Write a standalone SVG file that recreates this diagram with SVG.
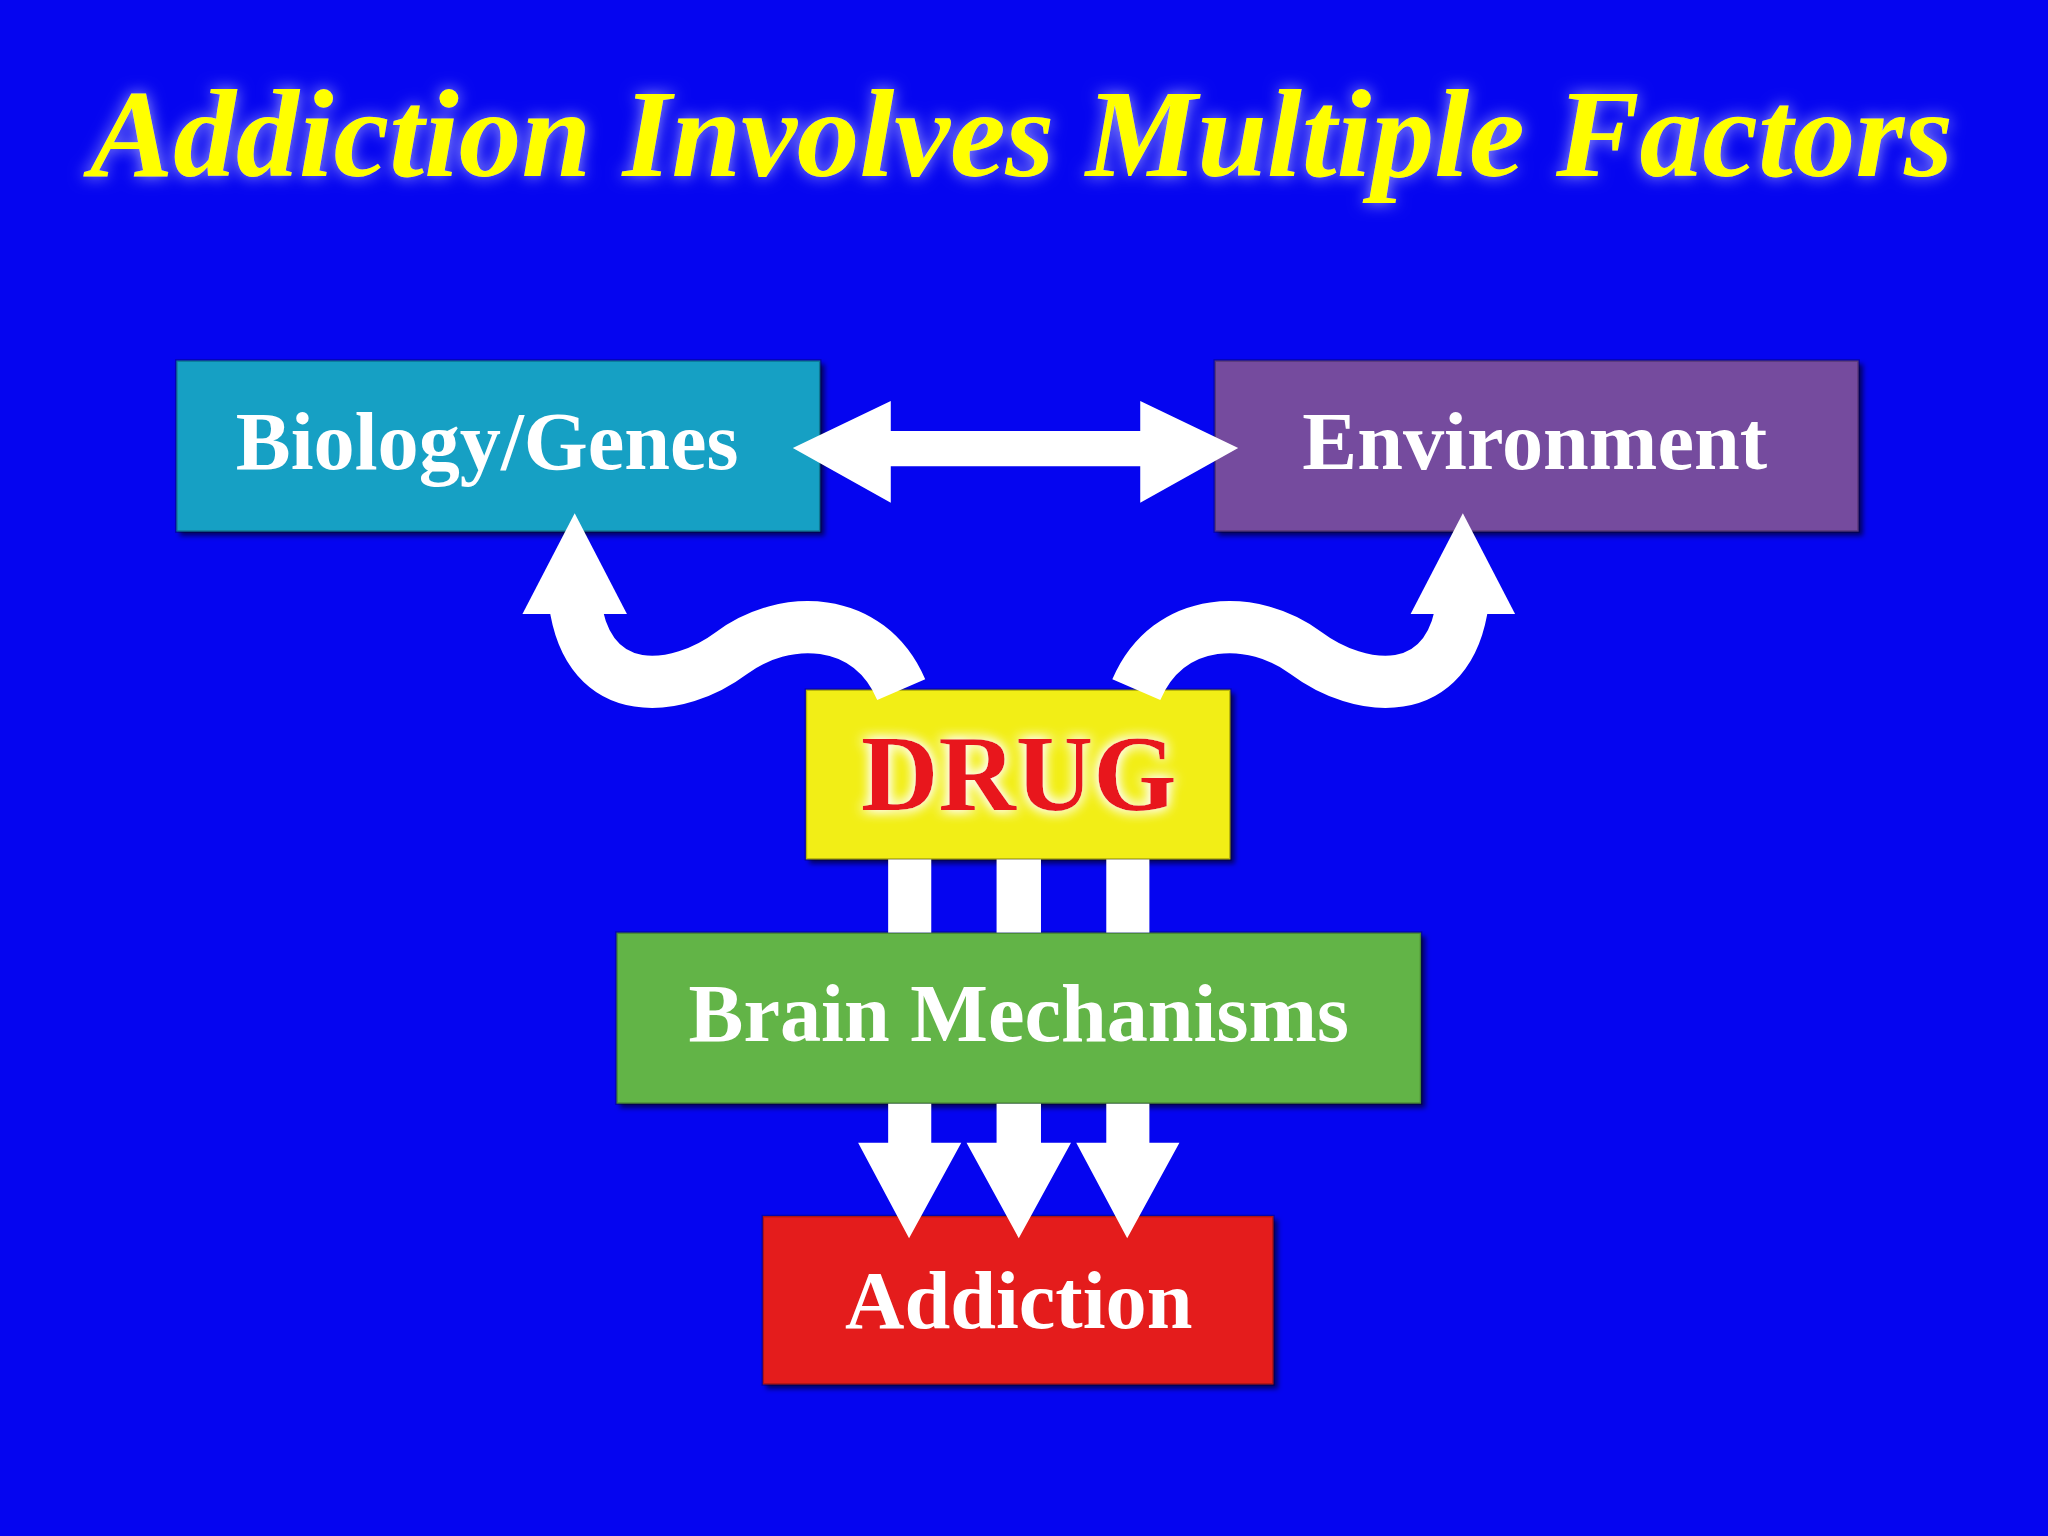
<svg xmlns="http://www.w3.org/2000/svg" width="2048" height="1536" viewBox="0 0 2048 1536">
<defs>
<style>
.lbl{font-family:"Liberation Serif",serif;font-weight:bold;fill:#fff;text-anchor:middle}
.box{stroke:rgba(0,0,0,0.25);stroke-width:2}
.wh{fill:#fff}
.ws{fill:none;stroke:#fff;stroke-width:40}
</style>
<filter id="sh" x="-20%" y="-20%" width="140%" height="140%"><feDropShadow dx="3" dy="3" stdDeviation="2" flood-color="#000" flood-opacity="0.6"/></filter>
<filter id="glow" x="-10%" y="-30%" width="120%" height="160%"><feGaussianBlur in="SourceAlpha" stdDeviation="5" result="b"/><feFlood flood-color="#fff"/><feComposite in2="b" operator="in" result="g"/><feMerge><feMergeNode in="g"/><feMergeNode in="g"/><feMergeNode in="SourceGraphic"/></feMerge></filter>
<filter id="tglow" x="-10%" y="-30%" width="120%" height="160%"><feGaussianBlur in="SourceAlpha" stdDeviation="6" result="b"/><feFlood flood-color="#fff" flood-opacity="0.6"/><feComposite in2="b" operator="in" result="g"/><feMerge><feMergeNode in="g"/><feMergeNode in="SourceGraphic"/></feMerge></filter>
</defs>
<rect width="2048" height="1536" fill="#0505f0"/>
<g transform="scale(1.30612)">
<text x="782" y="135" font-family="Liberation Serif,serif" font-weight="bold" font-style="italic" font-size="96" fill="#ffff00" text-anchor="middle" filter="url(#tglow)">Addiction Involves Multiple Factors</text>
<g id="biology" filter="url(#sh)"><rect class="box" x="135" y="276" width="493" height="131" fill="#16a0c4"/><text class="lbl" x="373" y="359" font-size="63">Biology/Genes</text></g>
<g id="environment" filter="url(#sh)"><rect class="box" x="930" y="276" width="493" height="131" fill="#744c9e"/><text class="lbl" x="1175" y="359" font-size="63">Environment</text></g>
<g id="drug"><rect class="box" x="617" y="528" width="325" height="130" fill="#f2ee12" filter="url(#sh)"/><text x="780" y="620" font-family="Liberation Serif,serif" font-weight="bold" font-size="82" fill="#e8181e" text-anchor="middle" filter="url(#glow)">DRUG</text></g>
<g id="brain" filter="url(#sh)"><rect class="box" x="472" y="714" width="616" height="131" fill="#62b446"/><text class="lbl" x="780" y="797" font-size="63">Brain Mechanisms</text></g>
<g id="addiction" filter="url(#sh)"><rect class="box" x="584" y="931" width="391" height="129" fill="#e41c1c"/><text class="lbl" x="780" y="1017" font-size="63">Addiction</text></g>
<g id="connectors">
<path class="wh" d="M607 343 L682 307 L682 330 L873 330 L873 307 L948 343 L873 385 L873 357 L682 357 L682 385 Z"/>
<path class="ws" d="M690 528 C665 470 600 470 560 500 C520 530 450 540 440 460"/>
<path class="wh" d="M440 393 L480 470 L400 470 Z"/>
<path class="ws" d="M870 528 C895 470 960 470 1000 500 C1040 530 1110 540 1120 460"/>
<path class="wh" d="M1120 393 L1160 470 L1080 470 Z"/>
<rect class="wh" x="680" y="658" width="33" height="56"/>
<rect class="wh" x="763" y="658" width="34" height="56"/>
<rect class="wh" x="847" y="658" width="33" height="56"/>
<path class="wh" d="M680 845 L713 845 L713 875 L736 875 L696 948 L657 875 L680 875 Z"/>
<path class="wh" d="M763 845 L797 845 L797 875 L820 875 L780 948 L740 875 L763 875 Z"/>
<path class="wh" d="M847 845 L880 845 L880 875 L903 875 L863 948 L824 875 L847 875 Z"/>
</g>
</g>
</svg>
